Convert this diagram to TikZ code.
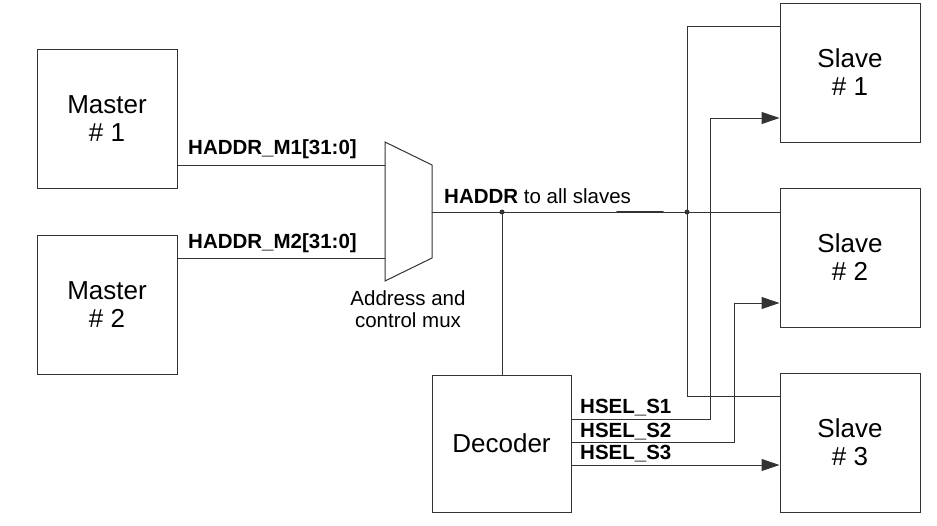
\documentclass[tikz,border=0pt]{standalone}
\usepackage{fontspec}
\setmainfont{Liberation Sans}
\usetikzlibrary{arrows.meta, calc}
\definecolor{busGray}{HTML}{333333}

\begin{document}
\begin{tikzpicture}[x=1pt, y=-1pt, line cap=round,
	block/.style={draw=busGray, line width=1pt, minimum width=140pt, minimum height=139pt, inner sep=0pt, align=center, font=\fontsize{26}{28}\selectfont},
	wire/.style={draw=busGray, line width=1pt},
	sel/.style={wire, -{Triangle[length=18pt, width=12pt]}},
	lbl/.style={anchor=base west, inner sep=0pt, font=\fontsize{20.5}{22}\selectfont\bfseries},
	dot/.style={circle, fill=busGray, inner sep=0pt, minimum size=5pt}]
	\useasboundingbox (0,0) rectangle (937,525);

	% masters, slaves, decoder
	\node[block] (m1) at (107,119) {Master\\\# 1};
	\node[block] (m2) at (107,304.5) {Master\\\# 2};
	\node[block] (s1) at (850,72.5) {Slave\\\# 1};
	\node[block] (s2) at (850,257.5) {Slave\\\# 2};
	\node[block] (s3) at (850,442.5) {Slave\\\# 3};
	\node[block, minimum width=139pt, minimum height=137pt] (dec) at (501.5,443.5) {Decoder};

	% mux
	\draw[wire, line join=miter] (385,142) -- (432,165) -- (432,258) -- (385,281) -- cycle;
	\coordinate (in1) at (385,165);
	\coordinate (in2) at (385,258);
	\coordinate (out) at (432,212);
	\node[anchor=north, inner sep=0pt, align=center, font=\fontsize{20.5}{22}\selectfont] (muxlbl) at (408,290) {Address and\\control mux};

	\draw[wire] (m1.east |- in1) -- (in1);
	\draw[wire] (m2.east |- in2) -- (in2);
	\node[lbl] (a1) at (188,154) {HADDR\_M1[31:0]};
	\node[lbl] (a2) at (188,248) {HADDR\_M2[31:0]};

	% address bus
	\draw[wire] (out) -- (s2.west |- out);
	\draw[busGray, line width=1.8pt] (617,212) -- (663,212);
	\node[lbl, font=\fontsize{20.5}{22}\selectfont] (bus) at (444,203) {\textbf{HADDR} to all slaves};
	\node[dot] (j1) at (502,212) {};
	\node[dot] (j2) at (687,212) {};
	\draw[wire] (j1) -- (j1 |- dec.north);
	\coordinate (t1) at (687,26);
	\coordinate (t3) at (687,396);
	\draw[wire, line join=miter] (s1.west |- t1) -- (t1) -- (t3) -- (s3.west |- t3);

	% selects
	\coordinate (c1) at (710,118);
	\coordinate (c2) at (734,303);
	\draw[sel, line join=miter] (dec.east |- 0,419) -| (c1) -- (s1.west |- c1);
	\draw[sel, line join=miter] (dec.east |- 0,442) -| (c2) -- (s2.west |- c2);
	\draw[sel] (dec.east |- 0,465) -- (s3.west |- 0,465);
	\node[lbl] (h1) at (580,413) {HSEL\_S1};
	\node[lbl] (h2) at (580,437) {HSEL\_S2};
	\node[lbl] (h3) at (580,459) {HSEL\_S3};

\end{tikzpicture}
\end{document}
